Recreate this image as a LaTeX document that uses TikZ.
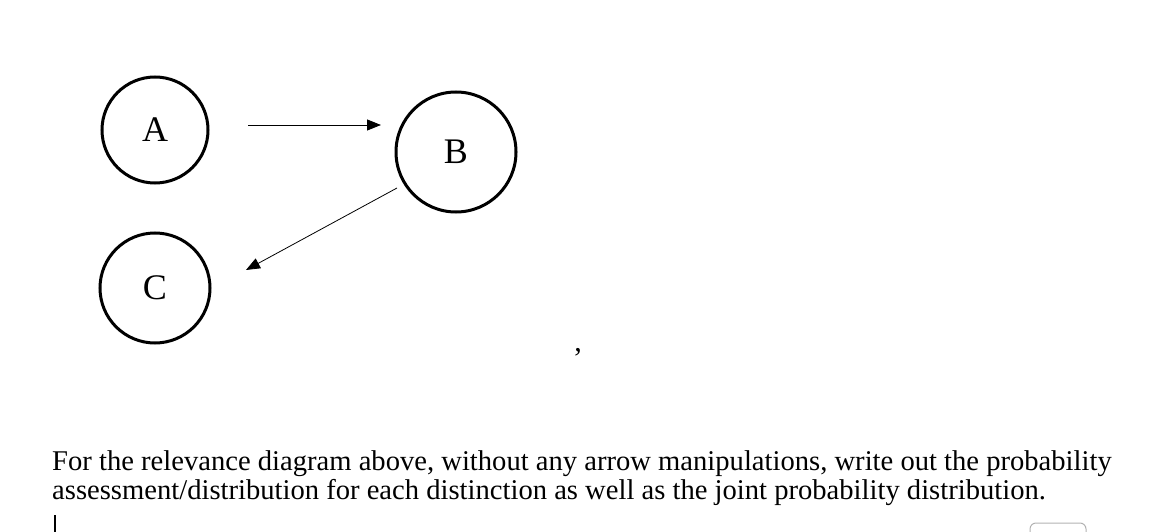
\documentclass[tikz,border=0pt]{standalone}
\usepackage{fontspec}
\setmainfont{Liberation Serif}
\usetikzlibrary{arrows.meta}
\begin{document}
\begin{tikzpicture}[x=1pt,y=-1pt,
  var/.style={circle,draw,line width=3pt,minimum size=106pt,inner sep=0pt,font=\fontsize{36}{40}\selectfont},
  conn/.style={line width=0.8pt,-{Triangle[length=14pt,width=11pt]}},
  txt/.style={anchor=base west,inner sep=0pt,font=\fontsize{28.6}{32}\selectfont}]
\useasboundingbox (0,0) rectangle (1162,532);
\node[var] (A) at (155,130) {A};
\node[var,minimum size=120pt] (B) at (456,152) {B};
\node[var,minimum size=110pt] (C) at (155,288) {C};
\coordinate (a1) at (248,125); \coordinate (b1) at (381,125);
\coordinate (b2) at (397,188); \coordinate (c1) at (246,270);
\draw[conn] (a1) -- (b1);
\draw[conn] (b2) -- (c1);
\node[inner sep=0pt,font=\fontsize{30}{32}\selectfont] (comma) at (578,352) {,};
\node[txt] (t1) at (52,470) {For the relevance diagram above, without any arrow manipulations, write out the probability};
\node[txt] (t2) at (52,499) {assessment/distribution for each distinction as well as the joint probability distribution.};
\draw[line width=1.3pt] (55,515) -- (55,532);
\draw[gray!60,line width=1pt,rounded corners=6pt] (1030,534) -- (1030,523) -- (1086,523) -- (1086,534);
\end{tikzpicture}
\end{document}
